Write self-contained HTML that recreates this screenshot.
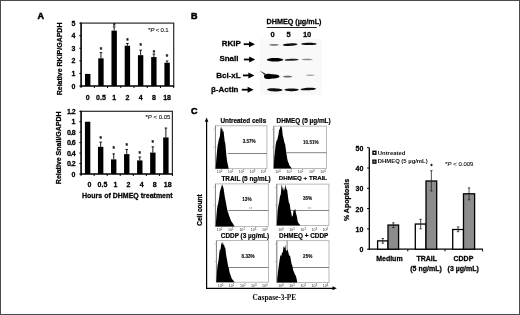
<!DOCTYPE html>
<html lang="en"><head><meta charset="utf-8"><title>Figure</title>
<style>html,body{margin:0;padding:0;background:#4a4a4a;}body{width:520px;height:315px;overflow:hidden;}svg{display:block;}</style>
</head><body>
<svg width="520" height="315" viewBox="0 0 520 315" font-family='"Liberation Sans", sans-serif'>
<rect x="0" y="0" width="520" height="315" fill="#4a4a4a"/>
<rect x="1" y="1" width="518" height="313" fill="#fff"/>
<g style="filter:blur(0.45px)">
<text x="37.5" y="19.3" font-size="9" font-weight="bold" text-anchor="start" fill="#000" stroke="#000" stroke-width="0.55">A</text>
<text x="191" y="19.3" font-size="9" font-weight="bold" text-anchor="start" fill="#000" stroke="#000" stroke-width="0.55">B</text>
<text x="191" y="113.6" font-size="9" font-weight="bold" text-anchor="start" fill="#000" stroke="#000" stroke-width="0.55">C</text>
<rect x="81.1" y="23.1" width="92.60" height="62.90" fill="#fff" stroke="#2a2a2a" stroke-width="1.2"/>
<line x1="81.10" y1="22.60" x2="81.10" y2="86.50" stroke="#000" stroke-width="1.2"/>
<line x1="80.60" y1="86.00" x2="174.20" y2="86.00" stroke="#000" stroke-width="1.2"/>
<line x1="79.30" y1="86.00" x2="81.10" y2="86.00" stroke="#000" stroke-width="1"/>
<text x="75.3" y="88.5" font-size="7" font-weight="bold" text-anchor="end" fill="#000" stroke="#000" stroke-width="0.26">0</text>
<line x1="79.30" y1="73.42" x2="81.10" y2="73.42" stroke="#000" stroke-width="1"/>
<text x="75.3" y="75.92" font-size="7" font-weight="bold" text-anchor="end" fill="#000" stroke="#000" stroke-width="0.26">1</text>
<line x1="79.30" y1="60.84" x2="81.10" y2="60.84" stroke="#000" stroke-width="1"/>
<text x="75.3" y="63.34" font-size="7" font-weight="bold" text-anchor="end" fill="#000" stroke="#000" stroke-width="0.26">2</text>
<line x1="79.30" y1="48.26" x2="81.10" y2="48.26" stroke="#000" stroke-width="1"/>
<text x="75.3" y="50.76" font-size="7" font-weight="bold" text-anchor="end" fill="#000" stroke="#000" stroke-width="0.26">3</text>
<line x1="79.30" y1="35.68" x2="81.10" y2="35.68" stroke="#000" stroke-width="1"/>
<text x="75.3" y="38.18" font-size="7" font-weight="bold" text-anchor="end" fill="#000" stroke="#000" stroke-width="0.26">4</text>
<line x1="79.30" y1="23.10" x2="81.10" y2="23.10" stroke="#000" stroke-width="1"/>
<text x="75.3" y="25.6" font-size="7" font-weight="bold" text-anchor="end" fill="#000" stroke="#000" stroke-width="0.26">5</text>
<line x1="81.10" y1="86.00" x2="81.10" y2="88.00" stroke="#000" stroke-width="1"/>
<line x1="94.33" y1="86.00" x2="94.33" y2="88.00" stroke="#000" stroke-width="1"/>
<line x1="107.56" y1="86.00" x2="107.56" y2="88.00" stroke="#000" stroke-width="1"/>
<line x1="120.79" y1="86.00" x2="120.79" y2="88.00" stroke="#000" stroke-width="1"/>
<line x1="134.01" y1="86.00" x2="134.01" y2="88.00" stroke="#000" stroke-width="1"/>
<line x1="147.24" y1="86.00" x2="147.24" y2="88.00" stroke="#000" stroke-width="1"/>
<line x1="160.47" y1="86.00" x2="160.47" y2="88.00" stroke="#000" stroke-width="1"/>
<line x1="173.70" y1="86.00" x2="173.70" y2="88.00" stroke="#000" stroke-width="1"/>
<rect x="85.01" y="73.92" width="5.40" height="12.08" fill="#000"/>
<rect x="98.24" y="58.32" width="5.40" height="27.68" fill="#000"/>
<line x1="100.94" y1="58.32" x2="100.94" y2="52.66" stroke="#000" stroke-width="0.9"/>
<line x1="99.64" y1="52.66" x2="102.24" y2="52.66" stroke="#000" stroke-width="0.9"/>
<text x="100.94" y="51.5" font-size="6.3" font-weight="bold" text-anchor="middle" fill="#000" stroke="#000" stroke-width="0.15">*</text>
<rect x="111.47" y="30.65" width="5.40" height="55.35" fill="#000"/>
<line x1="114.17" y1="30.65" x2="114.17" y2="26.87" stroke="#000" stroke-width="0.9"/>
<line x1="112.87" y1="26.87" x2="115.47" y2="26.87" stroke="#000" stroke-width="0.9"/>
<text x="114.17" y="27.6" font-size="6.3" font-weight="bold" text-anchor="middle" fill="#000" stroke="#000" stroke-width="0.15">*</text>
<rect x="124.70" y="45.74" width="5.40" height="40.26" fill="#000"/>
<line x1="127.40" y1="45.74" x2="127.40" y2="43.48" stroke="#000" stroke-width="0.9"/>
<line x1="126.10" y1="43.48" x2="128.70" y2="43.48" stroke="#000" stroke-width="0.9"/>
<text x="127.4" y="42.7" font-size="6.3" font-weight="bold" text-anchor="middle" fill="#000" stroke="#000" stroke-width="0.15">*</text>
<rect x="137.93" y="55.18" width="5.40" height="30.82" fill="#000"/>
<line x1="140.63" y1="55.18" x2="140.63" y2="50.15" stroke="#000" stroke-width="0.9"/>
<line x1="139.33" y1="50.15" x2="141.93" y2="50.15" stroke="#000" stroke-width="0.9"/>
<text x="140.63" y="47.9" font-size="6.3" font-weight="bold" text-anchor="middle" fill="#000" stroke="#000" stroke-width="0.15">*</text>
<rect x="151.16" y="57.07" width="5.40" height="28.93" fill="#000"/>
<line x1="153.86" y1="57.07" x2="153.86" y2="54.05" stroke="#000" stroke-width="0.9"/>
<line x1="152.56" y1="54.05" x2="155.16" y2="54.05" stroke="#000" stroke-width="0.9"/>
<text x="153.86" y="54.8" font-size="6.3" font-weight="bold" text-anchor="middle" fill="#000" stroke="#000" stroke-width="0.15">*</text>
<rect x="164.39" y="62.73" width="5.40" height="23.27" fill="#000"/>
<line x1="167.09" y1="62.73" x2="167.09" y2="60.97" stroke="#000" stroke-width="0.9"/>
<line x1="165.79" y1="60.97" x2="168.39" y2="60.97" stroke="#000" stroke-width="0.9"/>
<text x="167.09" y="59.4" font-size="6.3" font-weight="bold" text-anchor="middle" fill="#000" stroke="#000" stroke-width="0.15">*</text>
<text x="87.71" y="100.4" font-size="7" font-weight="bold" text-anchor="middle" fill="#000" stroke="#000" stroke-width="0.26">0</text>
<text x="100.94" y="100.4" font-size="7" font-weight="bold" text-anchor="middle" fill="#000" stroke="#000" stroke-width="0.26">0.5</text>
<text x="114.17" y="100.4" font-size="7" font-weight="bold" text-anchor="middle" fill="#000" stroke="#000" stroke-width="0.26">1</text>
<text x="127.4" y="100.4" font-size="7" font-weight="bold" text-anchor="middle" fill="#000" stroke="#000" stroke-width="0.26">2</text>
<text x="140.63" y="100.4" font-size="7" font-weight="bold" text-anchor="middle" fill="#000" stroke="#000" stroke-width="0.26">4</text>
<text x="153.86" y="100.4" font-size="7" font-weight="bold" text-anchor="middle" fill="#000" stroke="#000" stroke-width="0.26">8</text>
<text x="167.09" y="100.4" font-size="7" font-weight="bold" text-anchor="middle" fill="#000" stroke="#000" stroke-width="0.26">18</text>
<text x="148.2" y="32.3" font-size="6" font-weight="normal" fill="#111" stroke="#111" stroke-width="0.1" letter-spacing="-0.15">*<tspan font-style="italic">P</tspan> &lt; 0.1</text>
<text x="62" y="58.9" font-size="7" font-weight="bold" text-anchor="middle" fill="#000" transform="rotate(-90 62 58.9)" stroke="#000" stroke-width="0.26">Relative RKIP/GAPDH</text>
<rect x="81.1" y="111.3" width="91.30" height="62.70" fill="#fff" stroke="#2a2a2a" stroke-width="1.2"/>
<line x1="81.10" y1="110.80" x2="81.10" y2="174.50" stroke="#000" stroke-width="1.2"/>
<line x1="80.60" y1="174.00" x2="172.90" y2="174.00" stroke="#000" stroke-width="1.2"/>
<line x1="79.30" y1="174.00" x2="81.10" y2="174.00" stroke="#000" stroke-width="1"/>
<text x="75.3" y="176.5" font-size="7" font-weight="bold" text-anchor="end" fill="#000" stroke="#000" stroke-width="0.26">0</text>
<line x1="79.30" y1="163.55" x2="81.10" y2="163.55" stroke="#000" stroke-width="1"/>
<text x="75.3" y="166.05" font-size="7" font-weight="bold" text-anchor="end" fill="#000" letter-spacing="-0.45" stroke="#000" stroke-width="0.26">0.2</text>
<line x1="79.30" y1="153.10" x2="81.10" y2="153.10" stroke="#000" stroke-width="1"/>
<text x="75.3" y="155.6" font-size="7" font-weight="bold" text-anchor="end" fill="#000" letter-spacing="-0.45" stroke="#000" stroke-width="0.26">0.4</text>
<line x1="79.30" y1="142.65" x2="81.10" y2="142.65" stroke="#000" stroke-width="1"/>
<text x="75.3" y="145.15" font-size="7" font-weight="bold" text-anchor="end" fill="#000" letter-spacing="-0.45" stroke="#000" stroke-width="0.26">0.6</text>
<line x1="79.30" y1="132.20" x2="81.10" y2="132.20" stroke="#000" stroke-width="1"/>
<text x="75.3" y="134.7" font-size="7" font-weight="bold" text-anchor="end" fill="#000" letter-spacing="-0.45" stroke="#000" stroke-width="0.26">0.8</text>
<line x1="79.30" y1="121.75" x2="81.10" y2="121.75" stroke="#000" stroke-width="1"/>
<text x="75.3" y="124.25" font-size="7" font-weight="bold" text-anchor="end" fill="#000" stroke="#000" stroke-width="0.26">1</text>
<line x1="79.30" y1="111.30" x2="81.10" y2="111.30" stroke="#000" stroke-width="1"/>
<text x="75.3" y="113.8" font-size="7" font-weight="bold" text-anchor="end" fill="#000" letter-spacing="-0.45" stroke="#000" stroke-width="0.26">1.2</text>
<line x1="81.10" y1="174.00" x2="81.10" y2="176.00" stroke="#000" stroke-width="1"/>
<line x1="94.14" y1="174.00" x2="94.14" y2="176.00" stroke="#000" stroke-width="1"/>
<line x1="107.19" y1="174.00" x2="107.19" y2="176.00" stroke="#000" stroke-width="1"/>
<line x1="120.23" y1="174.00" x2="120.23" y2="176.00" stroke="#000" stroke-width="1"/>
<line x1="133.27" y1="174.00" x2="133.27" y2="176.00" stroke="#000" stroke-width="1"/>
<line x1="146.31" y1="174.00" x2="146.31" y2="176.00" stroke="#000" stroke-width="1"/>
<line x1="159.36" y1="174.00" x2="159.36" y2="176.00" stroke="#000" stroke-width="1"/>
<line x1="172.40" y1="174.00" x2="172.40" y2="176.00" stroke="#000" stroke-width="1"/>
<rect x="84.92" y="121.75" width="5.40" height="52.25" fill="#000"/>
<rect x="97.96" y="146.83" width="5.40" height="27.17" fill="#000"/>
<line x1="100.66" y1="146.83" x2="100.66" y2="142.13" stroke="#000" stroke-width="0.9"/>
<line x1="99.36" y1="142.13" x2="101.96" y2="142.13" stroke="#000" stroke-width="0.9"/>
<text x="100.66" y="140.9" font-size="6.3" font-weight="bold" text-anchor="middle" fill="#000" stroke="#000" stroke-width="0.15">*</text>
<rect x="111.01" y="159.37" width="5.40" height="14.63" fill="#000"/>
<line x1="113.71" y1="159.37" x2="113.71" y2="153.88" stroke="#000" stroke-width="0.9"/>
<line x1="112.41" y1="153.88" x2="115.01" y2="153.88" stroke="#000" stroke-width="0.9"/>
<text x="113.71" y="151.2" font-size="6.3" font-weight="bold" text-anchor="middle" fill="#000" stroke="#000" stroke-width="0.15">*</text>
<rect x="124.05" y="154.14" width="5.40" height="19.86" fill="#000"/>
<line x1="126.75" y1="154.14" x2="126.75" y2="149.44" stroke="#000" stroke-width="0.9"/>
<line x1="125.45" y1="149.44" x2="128.05" y2="149.44" stroke="#000" stroke-width="0.9"/>
<text x="126.75" y="148.1" font-size="6.3" font-weight="bold" text-anchor="middle" fill="#000" stroke="#000" stroke-width="0.15">*</text>
<rect x="137.09" y="160.41" width="5.40" height="13.59" fill="#000"/>
<line x1="139.79" y1="160.41" x2="139.79" y2="157.02" stroke="#000" stroke-width="0.9"/>
<line x1="138.49" y1="157.02" x2="141.09" y2="157.02" stroke="#000" stroke-width="0.9"/>
<text x="139.79" y="155.9" font-size="6.3" font-weight="bold" text-anchor="middle" fill="#000" stroke="#000" stroke-width="0.15">*</text>
<rect x="150.14" y="152.58" width="5.40" height="21.42" fill="#000"/>
<line x1="152.84" y1="152.58" x2="152.84" y2="146.83" stroke="#000" stroke-width="0.9"/>
<line x1="151.54" y1="146.83" x2="154.14" y2="146.83" stroke="#000" stroke-width="0.9"/>
<text x="152.84" y="145.0" font-size="6.3" font-weight="bold" text-anchor="middle" fill="#000" stroke="#000" stroke-width="0.15">*</text>
<rect x="163.18" y="137.43" width="5.40" height="36.57" fill="#000"/>
<line x1="165.88" y1="137.43" x2="165.88" y2="128.02" stroke="#000" stroke-width="0.9"/>
<line x1="164.58" y1="128.02" x2="167.18" y2="128.02" stroke="#000" stroke-width="0.9"/>
<text x="89.42" y="187" font-size="7" font-weight="bold" text-anchor="middle" fill="#000" stroke="#000" stroke-width="0.26">0</text>
<text x="102.46" y="187" font-size="7" font-weight="bold" text-anchor="middle" fill="#000" stroke="#000" stroke-width="0.26">0.5</text>
<text x="115.51" y="187" font-size="7" font-weight="bold" text-anchor="middle" fill="#000" stroke="#000" stroke-width="0.26">1</text>
<text x="128.55" y="187" font-size="7" font-weight="bold" text-anchor="middle" fill="#000" stroke="#000" stroke-width="0.26">2</text>
<text x="141.59" y="187" font-size="7" font-weight="bold" text-anchor="middle" fill="#000" stroke="#000" stroke-width="0.26">4</text>
<text x="154.64" y="187" font-size="7" font-weight="bold" text-anchor="middle" fill="#000" stroke="#000" stroke-width="0.26">8</text>
<text x="167.68" y="187" font-size="7" font-weight="bold" text-anchor="middle" fill="#000" stroke="#000" stroke-width="0.26">18</text>
<text x="145.5" y="119.2" font-size="6" font-weight="normal" fill="#111" stroke="#111" stroke-width="0.1" letter-spacing="0">*<tspan font-style="italic">P</tspan> &lt; 0.05</text>
<text x="61.3" y="147.8" font-size="7" font-weight="bold" text-anchor="middle" fill="#000" transform="rotate(-90 61.3 147.8)" stroke="#000" stroke-width="0.26">Relative Snail/GAPDH</text>
<text x="127.3" y="198.4" font-size="7" font-weight="bold" text-anchor="middle" fill="#000" stroke="#000" stroke-width="0.26">Hours of DHMEQ treatment</text>
<text x="294" y="23.8" font-size="7.2" font-weight="bold" text-anchor="middle" fill="#000" stroke="#000" stroke-width="0.26">DHMEQ (µg/mL)</text>
<line x1="266.70" y1="27.50" x2="316.70" y2="27.50" stroke="#222" stroke-width="1.1"/>
<text x="272.7" y="37.3" font-size="7.5" font-weight="bold" text-anchor="middle" fill="#000" stroke="#000" stroke-width="0.26">0</text>
<text x="288.6" y="37.3" font-size="7.5" font-weight="bold" text-anchor="middle" fill="#000" stroke="#000" stroke-width="0.26">5</text>
<text x="307.1" y="37.3" font-size="7.5" font-weight="bold" text-anchor="middle" fill="#000" stroke="#000" stroke-width="0.26">10</text>
<rect x="260" y="39" width="62" height="56" fill="#f9f9f9"/>
<text x="240.8" y="45.9" font-size="8" font-weight="bold" text-anchor="end" fill="#000" stroke="#000" stroke-width="0.26">RKIP</text>
<line x1="243.70" y1="44.20" x2="250.80" y2="44.20" stroke="#000" stroke-width="1.8"/>
<polygon points="249.00,41.20 255.00,44.2 249.00,47.20" fill="#000"/>
<text x="238.5" y="60.8" font-size="8" font-weight="bold" text-anchor="end" fill="#000" stroke="#000" stroke-width="0.26">Snail</text>
<line x1="243.90" y1="59.50" x2="251.00" y2="59.50" stroke="#000" stroke-width="1.8"/>
<polygon points="249.20,56.50 255.20,59.5 249.20,62.50" fill="#000"/>
<text x="240.7" y="77.5" font-size="8" font-weight="bold" text-anchor="end" fill="#000" stroke="#000" stroke-width="0.26">Bcl-xL</text>
<line x1="243.00" y1="75.40" x2="250.20" y2="75.40" stroke="#000" stroke-width="1.8"/>
<polygon points="248.40,72.40 254.40,75.4 248.40,78.40" fill="#000"/>
<text x="238.5" y="91.9" font-size="8" font-weight="bold" text-anchor="end" fill="#000" stroke="#000" stroke-width="0.26">β-Actin</text>
<line x1="241.80" y1="89.70" x2="249.40" y2="89.70" stroke="#000" stroke-width="1.8"/>
<polygon points="247.60,86.70 253.60,89.7 247.60,92.70" fill="#000"/>
<defs><filter id="bl" x="-20%" y="-100%" width="140%" height="300%"><feGaussianBlur stdDeviation="0.45"/></filter></defs>
<g filter="url(#bl)">
<path d="M269.00,44.90 C269.40,43.80 278.60,43.80 279.00,44.90 C278.60,46.00 269.40,46.00 269.00,44.90Z" fill="#777"/>
<path d="M282.80,45.00 C283.20,43.31 297.10,42.51 297.50,44.20 C297.10,45.89 283.20,46.69 282.80,45.00Z" fill="#111"/>
<path d="M301.20,43.90 C301.60,42.47 316.20,42.47 316.60,43.90 C316.20,45.33 301.60,45.33 301.20,43.90Z" fill="#111"/>
<path d="M266.80,59.70 C267.20,57.30 282.80,57.30 283.20,59.70 C282.80,62.11 267.20,62.11 266.80,59.70Z" fill="#000"/>
<path d="M284.50,59.90 C284.90,58.54 298.50,58.13 298.90,59.50 C298.50,60.87 284.90,61.27 284.50,59.90Z" fill="#222"/>
<path d="M301.40,59.50 C301.80,58.52 312.50,58.52 312.90,59.50 C312.50,60.48 301.80,60.48 301.40,59.50Z" fill="#888"/>
<path d="M264.00,76.40 C264.40,73.67 279.10,73.67 279.50,76.40 C279.10,79.13 264.40,79.13 264.00,76.40Z" fill="#000"/>
<path d="M264,76.4 C264,73 270,73.2 272,75 L272,78 C270,79.4 264,79.6 264,76.4Z" fill="#000"/>
<path d="M259.6 70.6 L265.2 73.6 L265.4 75.6 Z" fill="#222"/>
<path d="M282.80,76.60 C283.20,75.30 291.90,75.30 292.30,76.60 C291.90,77.90 283.20,77.90 282.80,76.60Z" fill="#666"/>
<path d="M305.50,75.20 C305.90,74.16 314.40,74.16 314.80,75.20 C314.40,76.24 305.90,76.24 305.50,75.20Z" fill="#aaa"/>
<path d="M267.00,89.50 C267.40,87.36 282.20,87.95 282.60,90.10 C282.20,92.24 267.40,91.64 267.00,89.50Z" fill="#111"/>
<path d="M284.30,89.80 C284.70,87.91 298.50,87.91 298.90,89.80 C298.50,91.69 284.70,91.69 284.30,89.80Z" fill="#111"/>
<path d="M300.60,89.40 C301.00,87.77 315.60,87.17 316.00,88.80 C315.60,90.42 301.00,91.02 300.60,89.40Z" fill="#111"/>
</g>
<line x1="206.60" y1="120.00" x2="206.60" y2="288.30" stroke="#000" stroke-width="1.2"/>
<polygon points="204.8,121.8 206.6,117.5 208.4,121.8" fill="#000"/>
<line x1="206.00" y1="288.30" x2="333.00" y2="288.30" stroke="#000" stroke-width="1.2"/>
<polygon points="332.5,286.3 336.8,288.3 332.5,290.3" fill="#000"/>
<text x="201.5" y="210" font-size="6.5" font-weight="bold" text-anchor="middle" fill="#000" transform="rotate(-90 201.5 210)" stroke="#000" stroke-width="0.26">Cell count</text>
<text x="274.4" y="300.4" font-size="7.35" font-weight="bold" text-anchor="middle" fill="#111" font-family='"Liberation Serif", serif' stroke="#111" stroke-width="0.05">Caspase-3-PE</text>
<rect x="215.4" y="125.8" width="51.50" height="42.90" fill="#fff" stroke="#a8a8a8" stroke-width="0.8"/>
<line x1="215.40" y1="125.80" x2="215.40" y2="168.70" stroke="#777" stroke-width="0.8"/>
<line x1="227.80" y1="153.50" x2="266.90" y2="153.50" stroke="#666" stroke-width="0.8"/>
<line x1="213.40" y1="129.23" x2="214.60" y2="129.23" stroke="#999" stroke-width="0.6"/>
<line x1="213.40" y1="147.25" x2="214.60" y2="147.25" stroke="#999" stroke-width="0.6"/>
<polygon points="215.70,168.70 215.70,168.70 216.30,158.92 216.90,152.80 217.50,146.23 218.10,143.51 218.70,140.21 219.30,138.12 219.90,136.17 220.50,128.97 221.10,126.60 221.70,129.17 222.30,128.44 222.90,132.24 223.50,130.61 224.10,136.18 224.70,141.17 225.30,143.23 225.90,150.68 226.50,156.61 227.10,161.34 227.70,164.10 228.30,166.98 228.70,168.70" fill="#000"/>
<text x="243.3" y="123.3" font-size="6.4" font-weight="bold" text-anchor="middle" fill="#000" stroke="#000" stroke-width="0.18">Untreated cells</text>
<text x="249.2" y="142.8" font-size="4.6" font-weight="bold" text-anchor="middle" fill="#111" stroke="#111" stroke-width="0.12">3.57%</text>
<text x="219.52" y="172.9" font-size="3.6" font-weight="normal" text-anchor="middle" fill="#333">10<tspan dy="-1.2" font-size="2.8">0</tspan></text>
<text x="230.49" y="172.9" font-size="3.6" font-weight="normal" text-anchor="middle" fill="#333">10<tspan dy="-1.2" font-size="2.8">1</tspan></text>
<text x="241.46" y="172.9" font-size="3.6" font-weight="normal" text-anchor="middle" fill="#333">10<tspan dy="-1.2" font-size="2.8">2</tspan></text>
<text x="252.43" y="172.9" font-size="3.6" font-weight="normal" text-anchor="middle" fill="#333">10<tspan dy="-1.2" font-size="2.8">3</tspan></text>
<text x="263.40" y="172.9" font-size="3.6" font-weight="normal" text-anchor="middle" fill="#333">10<tspan dy="-1.2" font-size="2.8">4</tspan></text>
<rect x="215.4" y="183.9" width="52.90" height="42.60" fill="#fff" stroke="#a8a8a8" stroke-width="0.8"/>
<line x1="215.40" y1="183.90" x2="215.40" y2="226.50" stroke="#777" stroke-width="0.8"/>
<line x1="228.30" y1="210.50" x2="268.30" y2="210.50" stroke="#666" stroke-width="0.8"/>
<line x1="213.40" y1="187.31" x2="214.60" y2="187.31" stroke="#999" stroke-width="0.6"/>
<line x1="213.40" y1="205.20" x2="214.60" y2="205.20" stroke="#999" stroke-width="0.6"/>
<polygon points="215.70,226.50 215.70,226.50 216.30,217.27 216.90,210.24 217.50,205.80 218.10,204.04 218.70,200.23 219.30,196.50 219.90,191.38 220.50,189.80 221.10,187.52 221.70,185.47 222.30,184.40 222.90,186.56 223.50,188.05 224.10,191.73 224.70,196.31 225.30,199.58 225.90,202.15 226.50,205.75 227.10,208.95 227.70,211.48 228.30,213.05 228.90,215.34 229.50,216.63 230.10,218.16 230.70,220.09 231.30,221.16 231.90,222.21 232.50,223.01 233.10,223.93 233.70,225.02 234.30,225.99 234.60,226.50" fill="#000"/>
<text x="246.1" y="180.5" font-size="6.4" font-weight="bold" text-anchor="middle" fill="#000" stroke="#000" stroke-width="0.18">TRAIL (5 ng/mL)</text>
<text x="246.9" y="200.7" font-size="4.6" font-weight="bold" text-anchor="middle" fill="#111" stroke="#111" stroke-width="0.12">13%</text>
<text x="219.63" y="230.7" font-size="3.6" font-weight="normal" text-anchor="middle" fill="#333">10<tspan dy="-1.2" font-size="2.8">0</tspan></text>
<text x="230.90" y="230.7" font-size="3.6" font-weight="normal" text-anchor="middle" fill="#333">10<tspan dy="-1.2" font-size="2.8">1</tspan></text>
<text x="242.17" y="230.7" font-size="3.6" font-weight="normal" text-anchor="middle" fill="#333">10<tspan dy="-1.2" font-size="2.8">2</tspan></text>
<text x="253.44" y="230.7" font-size="3.6" font-weight="normal" text-anchor="middle" fill="#333">10<tspan dy="-1.2" font-size="2.8">3</tspan></text>
<text x="264.70" y="230.7" font-size="3.6" font-weight="normal" text-anchor="middle" fill="#333">10<tspan dy="-1.2" font-size="2.8">4</tspan></text>
<rect x="216.4" y="240.6" width="52.00" height="41.60" fill="#fff" stroke="#a8a8a8" stroke-width="0.8"/>
<line x1="216.40" y1="240.60" x2="216.40" y2="282.20" stroke="#777" stroke-width="0.8"/>
<line x1="228.30" y1="267.50" x2="268.40" y2="267.50" stroke="#666" stroke-width="0.8"/>
<line x1="214.40" y1="243.93" x2="215.60" y2="243.93" stroke="#999" stroke-width="0.6"/>
<line x1="214.40" y1="261.40" x2="215.60" y2="261.40" stroke="#999" stroke-width="0.6"/>
<polygon points="216.30,282.20 216.30,282.20 216.90,272.44 217.50,265.85 218.10,262.65 218.70,258.93 219.30,252.91 219.90,249.24 220.50,250.07 221.10,244.75 221.70,242.51 222.30,244.75 222.90,241.41 223.50,244.95 224.10,244.77 224.70,247.40 225.30,247.80 225.90,252.91 226.50,257.28 227.10,259.88 227.70,263.85 228.30,266.74 228.90,268.25 229.50,271.94 230.10,274.02 230.70,275.51 231.30,277.15 231.90,278.92 232.50,279.50 233.10,280.34 233.70,281.11 234.30,281.83 234.60,282.20" fill="#000"/>
<text x="245" y="238.4" font-size="6.4" font-weight="bold" text-anchor="middle" fill="#000" stroke="#000" stroke-width="0.18">CDDP (3 µg/mL)</text>
<text x="248.1" y="258" font-size="4.6" font-weight="bold" text-anchor="middle" fill="#111" stroke="#111" stroke-width="0.12">8.33%</text>
<text x="220.56" y="286.7" font-size="3.6" font-weight="normal" text-anchor="middle" fill="#333">10<tspan dy="-1.2" font-size="2.8">0</tspan></text>
<text x="231.64" y="286.7" font-size="3.6" font-weight="normal" text-anchor="middle" fill="#333">10<tspan dy="-1.2" font-size="2.8">1</tspan></text>
<text x="242.71" y="286.7" font-size="3.6" font-weight="normal" text-anchor="middle" fill="#333">10<tspan dy="-1.2" font-size="2.8">2</tspan></text>
<text x="253.79" y="286.7" font-size="3.6" font-weight="normal" text-anchor="middle" fill="#333">10<tspan dy="-1.2" font-size="2.8">3</tspan></text>
<text x="264.86" y="286.7" font-size="3.6" font-weight="normal" text-anchor="middle" fill="#333">10<tspan dy="-1.2" font-size="2.8">4</tspan></text>
<rect x="273.8" y="126.1" width="52.80" height="42.40" fill="#fff" stroke="#a8a8a8" stroke-width="0.8"/>
<line x1="273.80" y1="126.10" x2="273.80" y2="168.50" stroke="#777" stroke-width="0.8"/>
<line x1="286.30" y1="152.70" x2="326.60" y2="152.70" stroke="#666" stroke-width="0.8"/>
<line x1="271.80" y1="129.49" x2="273.00" y2="129.49" stroke="#999" stroke-width="0.6"/>
<line x1="271.80" y1="147.30" x2="273.00" y2="147.30" stroke="#999" stroke-width="0.6"/>
<polygon points="273.70,168.50 273.70,168.50 274.30,156.89 274.90,151.94 275.50,145.93 276.10,142.16 276.70,140.38 277.30,139.75 277.90,136.97 278.50,134.53 279.10,129.66 279.70,129.56 280.30,126.40 280.90,126.40 281.50,126.40 282.10,129.04 282.70,135.14 283.30,137.42 283.90,140.14 284.50,143.10 285.10,144.06 285.70,148.18 286.30,152.90 286.90,156.61 287.50,160.09 288.10,162.06 288.70,163.18 289.30,165.14 289.90,165.97 290.50,166.73 291.10,167.50 291.70,168.36 291.80,168.50" fill="#000"/>
<text x="303.6" y="123.2" font-size="6.4" font-weight="bold" text-anchor="middle" fill="#000" stroke="#000" stroke-width="0.18">DHMEQ (5 µg/mL)</text>
<text x="310.8" y="143.6" font-size="4.6" font-weight="bold" text-anchor="middle" fill="#111" stroke="#111" stroke-width="0.12">10.51%</text>
<text x="278.02" y="172.9" font-size="3.6" font-weight="normal" text-anchor="middle" fill="#333">10<tspan dy="-1.2" font-size="2.8">0</tspan></text>
<text x="289.27" y="172.9" font-size="3.6" font-weight="normal" text-anchor="middle" fill="#333">10<tspan dy="-1.2" font-size="2.8">1</tspan></text>
<text x="300.52" y="172.9" font-size="3.6" font-weight="normal" text-anchor="middle" fill="#333">10<tspan dy="-1.2" font-size="2.8">2</tspan></text>
<text x="311.76" y="172.9" font-size="3.6" font-weight="normal" text-anchor="middle" fill="#333">10<tspan dy="-1.2" font-size="2.8">3</tspan></text>
<text x="323.01" y="172.9" font-size="3.6" font-weight="normal" text-anchor="middle" fill="#333">10<tspan dy="-1.2" font-size="2.8">4</tspan></text>
<rect x="276.8" y="184.1" width="52.10" height="41.50" fill="#fff" stroke="#a8a8a8" stroke-width="0.8"/>
<line x1="276.80" y1="184.10" x2="276.80" y2="225.60" stroke="#777" stroke-width="0.8"/>
<line x1="289.80" y1="210.50" x2="328.90" y2="210.50" stroke="#666" stroke-width="0.8"/>
<line x1="274.80" y1="187.42" x2="276.00" y2="187.42" stroke="#999" stroke-width="0.6"/>
<line x1="274.80" y1="204.85" x2="276.00" y2="204.85" stroke="#999" stroke-width="0.6"/>
<polygon points="276.80,225.60 276.80,225.60 277.60,211.57 278.40,205.45 279.20,201.79 280.00,196.28 280.80,194.40 281.60,184.48 282.40,187.35 283.20,190.98 284.00,187.07 284.80,190.62 285.60,184.40 286.40,189.19 287.20,189.88 288.00,197.01 288.80,202.27 289.60,203.77 290.40,208.95 291.20,212.80 292.00,216.70 292.80,215.66 293.60,210.18 294.40,210.56 295.20,208.68 296.00,213.45 296.80,216.09 297.60,221.11 298.40,223.07 299.20,223.73 300.00,224.88 300.50,225.60" fill="#000"/>
<text x="303" y="180.4" font-size="6.2" font-weight="bold" text-anchor="middle" fill="#000" stroke="#000" stroke-width="0.18">DHMEQ + TRAIL</text>
<text x="307.5" y="200.4" font-size="4.6" font-weight="bold" text-anchor="middle" fill="#111" stroke="#111" stroke-width="0.12">35%</text>
<text x="280.97" y="230.7" font-size="3.6" font-weight="normal" text-anchor="middle" fill="#333">10<tspan dy="-1.2" font-size="2.8">0</tspan></text>
<text x="292.07" y="230.7" font-size="3.6" font-weight="normal" text-anchor="middle" fill="#333">10<tspan dy="-1.2" font-size="2.8">1</tspan></text>
<text x="303.16" y="230.7" font-size="3.6" font-weight="normal" text-anchor="middle" fill="#333">10<tspan dy="-1.2" font-size="2.8">2</tspan></text>
<text x="314.26" y="230.7" font-size="3.6" font-weight="normal" text-anchor="middle" fill="#333">10<tspan dy="-1.2" font-size="2.8">3</tspan></text>
<text x="325.36" y="230.7" font-size="3.6" font-weight="normal" text-anchor="middle" fill="#333">10<tspan dy="-1.2" font-size="2.8">4</tspan></text>
<rect x="276.8" y="240.7" width="52.20" height="41.90" fill="#fff" stroke="#a8a8a8" stroke-width="0.8"/>
<line x1="276.80" y1="240.70" x2="276.80" y2="282.60" stroke="#777" stroke-width="0.8"/>
<line x1="287.10" y1="267.50" x2="329.00" y2="267.50" stroke="#666" stroke-width="0.8"/>
<line x1="287.10" y1="240.70" x2="287.10" y2="267.50" stroke="#666" stroke-width="0.8"/>
<line x1="274.80" y1="244.05" x2="276.00" y2="244.05" stroke="#999" stroke-width="0.6"/>
<line x1="274.80" y1="261.65" x2="276.00" y2="261.65" stroke="#999" stroke-width="0.6"/>
<polygon points="277.20,282.60 277.20,278.71 278.00,271.91 278.80,265.80 279.60,260.08 280.40,254.88 281.20,256.27 282.00,252.61 282.80,252.54 283.60,246.33 284.40,248.34 285.20,245.00 286.00,250.48 286.80,250.95 287.60,249.52 288.40,252.62 289.20,256.04 290.00,255.31 290.80,259.87 291.60,263.97 292.40,266.10 293.20,270.35 294.00,271.92 294.80,274.24 295.60,275.49 296.40,277.66 297.20,282.11 297.30,282.60" fill="#000"/>
<text x="303.7" y="238.3" font-size="6.4" font-weight="bold" text-anchor="middle" fill="#000" stroke="#000" stroke-width="0.18">DHMEQ + CDDP</text>
<text x="307.7" y="258.3" font-size="4.6" font-weight="bold" text-anchor="middle" fill="#111" stroke="#111" stroke-width="0.12">25%</text>
<text x="280.98" y="286.7" font-size="3.6" font-weight="normal" text-anchor="middle" fill="#333">10<tspan dy="-1.2" font-size="2.8">0</tspan></text>
<text x="292.09" y="286.7" font-size="3.6" font-weight="normal" text-anchor="middle" fill="#333">10<tspan dy="-1.2" font-size="2.8">1</tspan></text>
<text x="303.21" y="286.7" font-size="3.6" font-weight="normal" text-anchor="middle" fill="#333">10<tspan dy="-1.2" font-size="2.8">2</tspan></text>
<text x="314.33" y="286.7" font-size="3.6" font-weight="normal" text-anchor="middle" fill="#333">10<tspan dy="-1.2" font-size="2.8">3</tspan></text>
<text x="325.45" y="286.7" font-size="3.6" font-weight="normal" text-anchor="middle" fill="#333">10<tspan dy="-1.2" font-size="2.8">4</tspan></text>
<line x1="249.20" y1="208.00" x2="250.30" y2="208.00" stroke="#444" stroke-width="0.7"/>
<line x1="250.90" y1="208.00" x2="252.00" y2="208.00" stroke="#444" stroke-width="0.7"/>
<line x1="308.10" y1="208.00" x2="309.20" y2="208.00" stroke="#444" stroke-width="0.7"/>
<line x1="309.80" y1="208.00" x2="310.90" y2="208.00" stroke="#444" stroke-width="0.7"/>
<line x1="369.30" y1="147.80" x2="369.30" y2="249.80" stroke="#000" stroke-width="1.3"/>
<line x1="368.70" y1="249.20" x2="483.00" y2="249.20" stroke="#000" stroke-width="1.3"/>
<line x1="367.10" y1="249.20" x2="369.30" y2="249.20" stroke="#000" stroke-width="1"/>
<text x="363.3" y="252.2" font-size="7" font-weight="bold" text-anchor="end" fill="#000" stroke="#000" stroke-width="0.26">0</text>
<line x1="367.10" y1="228.90" x2="369.30" y2="228.90" stroke="#000" stroke-width="1"/>
<text x="363.3" y="231.9" font-size="7" font-weight="bold" text-anchor="end" fill="#000" stroke="#000" stroke-width="0.26">10</text>
<line x1="367.10" y1="208.60" x2="369.30" y2="208.60" stroke="#000" stroke-width="1"/>
<text x="363.3" y="211.6" font-size="7" font-weight="bold" text-anchor="end" fill="#000" stroke="#000" stroke-width="0.26">20</text>
<line x1="367.10" y1="188.30" x2="369.30" y2="188.30" stroke="#000" stroke-width="1"/>
<text x="363.3" y="191.3" font-size="7" font-weight="bold" text-anchor="end" fill="#000" stroke="#000" stroke-width="0.26">30</text>
<line x1="367.10" y1="168.00" x2="369.30" y2="168.00" stroke="#000" stroke-width="1"/>
<text x="363.3" y="171.0" font-size="7" font-weight="bold" text-anchor="end" fill="#000" stroke="#000" stroke-width="0.26">40</text>
<line x1="367.10" y1="147.70" x2="369.30" y2="147.70" stroke="#000" stroke-width="1"/>
<text x="363.3" y="150.7" font-size="7" font-weight="bold" text-anchor="end" fill="#000" stroke="#000" stroke-width="0.26">50</text>
<line x1="407.80" y1="249.20" x2="407.80" y2="251.40" stroke="#000" stroke-width="1"/>
<line x1="445.00" y1="249.20" x2="445.00" y2="251.40" stroke="#000" stroke-width="1"/>
<line x1="482.60" y1="249.20" x2="482.60" y2="251.40" stroke="#000" stroke-width="1"/>
<text x="348.9" y="200" font-size="7" font-weight="bold" text-anchor="middle" fill="#000" transform="rotate(-90 348.9 200)" stroke="#000" stroke-width="0.26">% Apoptosis</text>
<rect x="377.60" y="240.88" width="10.40" height="8.32" fill="#fff" stroke="#000" stroke-width="1.3"/>
<line x1="382.80" y1="238.50" x2="382.80" y2="243.20" stroke="#222" stroke-width="0.8"/>
<line x1="381.60" y1="238.50" x2="384.00" y2="238.50" stroke="#222" stroke-width="0.8"/>
<line x1="381.60" y1="243.20" x2="384.00" y2="243.20" stroke="#222" stroke-width="0.8"/>
<rect x="388.00" y="225.04" width="10.60" height="24.16" fill="#8c8c8c" stroke="#000" stroke-width="1.3"/>
<line x1="393.30" y1="222.80" x2="393.30" y2="227.60" stroke="#222" stroke-width="0.8"/>
<line x1="392.10" y1="222.80" x2="394.50" y2="222.80" stroke="#222" stroke-width="0.8"/>
<line x1="392.10" y1="227.60" x2="394.50" y2="227.60" stroke="#222" stroke-width="0.8"/>
<rect x="415.30" y="224.03" width="10.70" height="25.17" fill="#fff" stroke="#000" stroke-width="1.3"/>
<line x1="420.65" y1="219.30" x2="420.65" y2="228.80" stroke="#222" stroke-width="0.8"/>
<line x1="419.45" y1="219.30" x2="421.85" y2="219.30" stroke="#222" stroke-width="0.8"/>
<line x1="419.45" y1="228.80" x2="421.85" y2="228.80" stroke="#222" stroke-width="0.8"/>
<rect x="426.00" y="180.99" width="10.70" height="68.21" fill="#8c8c8c" stroke="#000" stroke-width="1.3"/>
<line x1="431.35" y1="170.70" x2="431.35" y2="191.00" stroke="#222" stroke-width="0.8"/>
<line x1="430.15" y1="170.70" x2="432.55" y2="170.70" stroke="#222" stroke-width="0.8"/>
<line x1="430.15" y1="191.00" x2="432.55" y2="191.00" stroke="#222" stroke-width="0.8"/>
<rect x="452.70" y="229.51" width="10.80" height="19.69" fill="#fff" stroke="#000" stroke-width="1.3"/>
<line x1="458.10" y1="226.90" x2="458.10" y2="231.70" stroke="#222" stroke-width="0.8"/>
<line x1="456.90" y1="226.90" x2="459.30" y2="226.90" stroke="#222" stroke-width="0.8"/>
<line x1="456.90" y1="231.70" x2="459.30" y2="231.70" stroke="#222" stroke-width="0.8"/>
<rect x="463.50" y="193.78" width="11.10" height="55.42" fill="#8c8c8c" stroke="#000" stroke-width="1.3"/>
<line x1="469.05" y1="187.90" x2="469.05" y2="199.80" stroke="#222" stroke-width="0.8"/>
<line x1="467.85" y1="187.90" x2="470.25" y2="187.90" stroke="#222" stroke-width="0.8"/>
<line x1="467.85" y1="199.80" x2="470.25" y2="199.80" stroke="#222" stroke-width="0.8"/>
<text x="389.4" y="261.4" font-size="7" font-weight="bold" text-anchor="middle" fill="#000" stroke="#000" stroke-width="0.26">Medium</text>
<text x="426.7" y="261.4" font-size="7" font-weight="bold" text-anchor="middle" fill="#000" stroke="#000" stroke-width="0.26">TRAIL</text>
<text x="426" y="270.6" font-size="7" font-weight="bold" text-anchor="middle" fill="#000" stroke="#000" stroke-width="0.26">(5 ng/mL)</text>
<text x="463.4" y="261.4" font-size="7" font-weight="bold" text-anchor="middle" fill="#000" stroke="#000" stroke-width="0.26">CDDP</text>
<text x="463.2" y="270.6" font-size="7" font-weight="bold" text-anchor="middle" fill="#000" stroke="#000" stroke-width="0.26">(3 µg/mL)</text>
<rect x="373.0" y="151.3" width="2.9" height="2.9" fill="#fff" stroke="#000" stroke-width="1.4"/>
<rect x="372.9" y="160.1" width="3.1" height="3.1" fill="#8c8c8c" stroke="#000" stroke-width="1.2"/>
<text x="377.8" y="154.8" font-size="5.9" font-weight="bold" text-anchor="start" fill="#111" stroke="#000" stroke-width="0">Untreated</text>
<text x="377.8" y="163.0" font-size="5.9" font-weight="bold" text-anchor="start" fill="#111" stroke="#000" stroke-width="0">DHMEQ (5 µg/mL)</text>
<text x="431.6" y="168.4" font-size="5" font-weight="bold" text-anchor="middle" fill="#000" stroke="#000" stroke-width="0.26">*</text>
<text x="445.2" y="166.2" font-size="6" font-weight="normal" fill="#111" stroke="#111" stroke-width="0.1">*<tspan font-style="italic">P</tspan> &lt; 0.009</text>
</g>
</svg>
</body></html>
